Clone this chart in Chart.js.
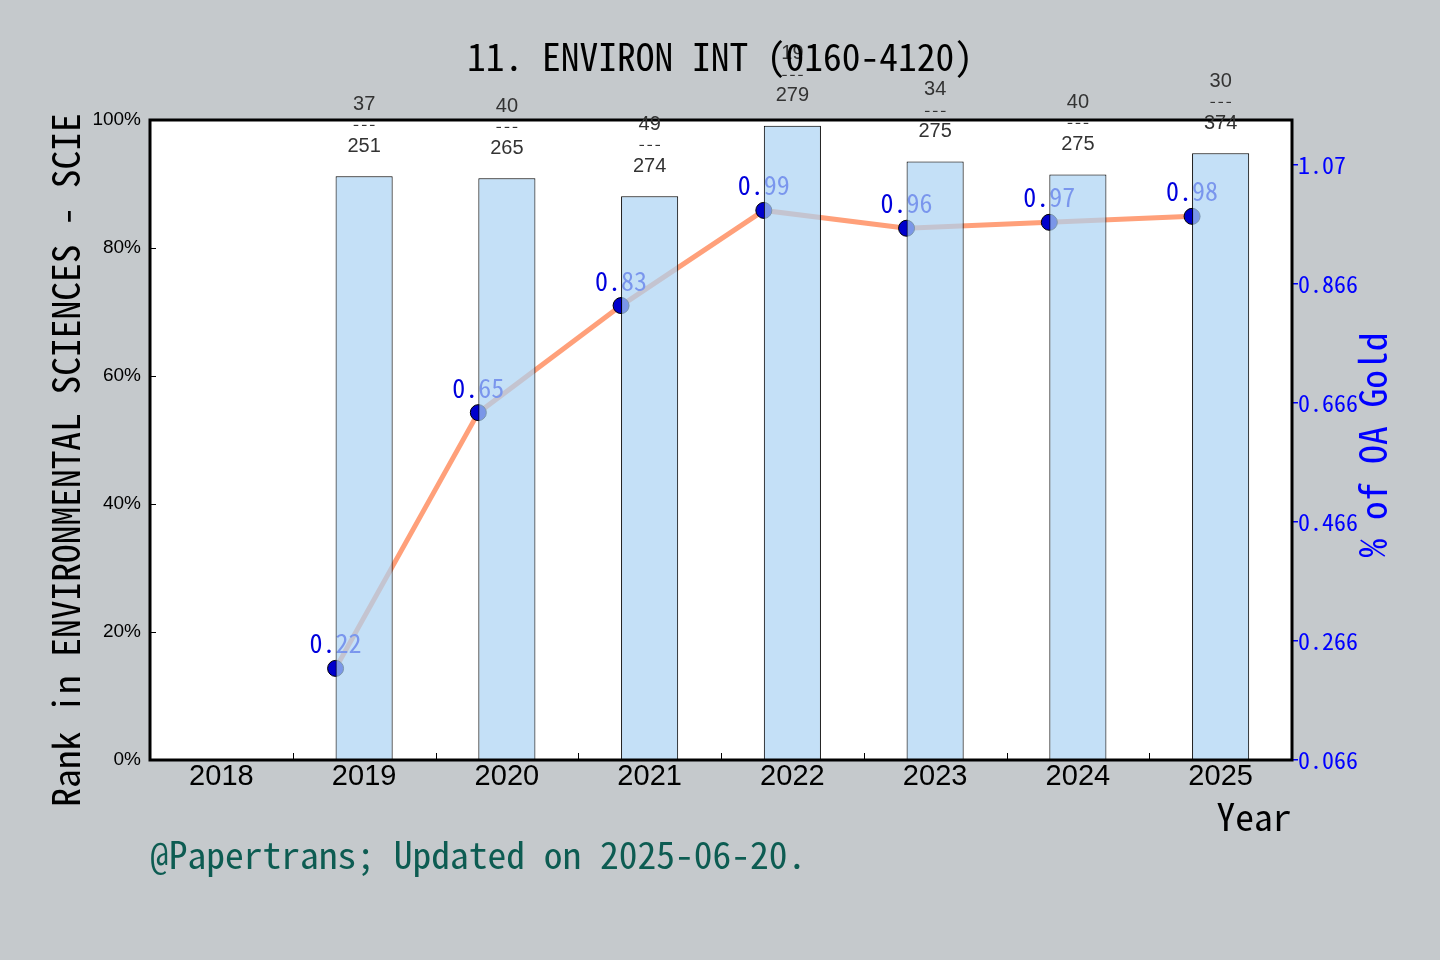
<!DOCTYPE html>
<html>
<head>
<meta charset="utf-8">
<script src="https://cdn.jsdelivr.net/npm/chart.js@4.4.1/dist/chart.umd.min.js"></script>
<style>
  html, body { margin: 0; padding: 0; background: #c5c9cc; }
  #wrap { width: 1440px; height: 960px; }
</style>
</head>
<body>
<div id="wrap"><canvas id="rankChart" width="1440" height="960"></canvas></div>
<script>
// data
const years = ['2018', '2019', '2020', '2021', '2022', '2023', '2024', '2025'];
const rankBarPct = [null, 91.2, 90.9, 88.1, 99.1, 93.5, 91.5, 94.8];
const ranks = [null, 37, 40, 49, 19, 34, 40, 30];
const totals = [null, 251, 265, 274, 279, 275, 275, 374];
const oaGold = [null, 0.22, 0.65, 0.83, 0.99, 0.96, 0.97, 0.98];
const leftTicks = [0, 20, 40, 60, 80, 100];
const rightTicks = [0.066, 0.266, 0.466, 0.666, 0.866, 1.066];
const rightTickLabels = ['0.066', '0.266', '0.466', '0.666', '0.866', '1.07'];

const MONO = '"Noto Sans Mono CJK SC", "Liberation Mono", monospace';
const NARROW = '"Liberation Sans Narrow", "Liberation Sans", Arial, sans-serif';
const lineShift = -0.2; // line points sit on the left edge of each bar

const decorations = {
  id: 'decorations',
  beforeDraw(chart) {
    const { ctx, chartArea: a } = chart;
    ctx.save();
    ctx.fillStyle = '#ffffff';
    ctx.fillRect(a.left, a.top, a.right - a.left, a.bottom - a.top);
    ctx.restore();
  },
  afterDatasetDraw(chart, args) {
    // value labels for the line, drawn before the bars so the bars tint them
    if (args.meta.type !== 'line') return;
    const ctx = chart.ctx;
    ctx.save();
    ctx.font = '26px ' + MONO;
    ctx.fillStyle = '#0000dd';
    ctx.textAlign = 'center';
    ctx.textBaseline = 'alphabetic';
    args.meta.data.forEach((pt, i) => {
      const raw = args.meta._dataset.data[i];
      ctx.fillText(raw.y.toFixed(2), pt.x, pt.y - 15);
    });
    ctx.restore();
  },
  afterDraw(chart) {
    const { ctx, chartArea: a, scales } = chart;
    ctx.save();

    // inward ticks
    ctx.strokeStyle = '#000';
    ctx.lineWidth = 1;
    ctx.beginPath();
    leftTicks.forEach(v => {
      const y = Math.round(scales.y.getPixelForValue(v)) + 0.5;
      ctx.moveTo(a.left, y);
      ctx.lineTo(a.left + 6, y);
    });
    for (let i = 0; i < years.length - 1; i++) {
      const x = Math.round(scales.x2.getPixelForValue(i + 0.5)) + 0.5;
      ctx.moveTo(x, a.bottom);
      ctx.lineTo(x, a.bottom - 7);
    }
    ctx.stroke();

    // frame
    ctx.lineWidth = 3;
    ctx.strokeRect(a.left, a.top, a.right - a.left, a.bottom - a.top);

    // rank / total above each bar
    const barMeta = chart.getDatasetMeta(0);
    ctx.fillStyle = '#333333';
    ctx.textAlign = 'center';
    ctx.textBaseline = 'middle';
    barMeta.data.forEach((bar, i) => {
      if (ranks[i] == null) return;
      ctx.font = '20px ' + NARROW;
      ctx.fillText(String(ranks[i]), bar.x, bar.y - 72);
      ctx.fillText(String(totals[i]), bar.x, bar.y - 30);
      ctx.font = '16px ' + MONO;
      ctx.fillText('---', bar.x, bar.y - 52);
    });

    // titles
    ctx.fillStyle = '#000';
    ctx.font = '37.5px ' + MONO;
    ctx.textAlign = 'center';
    ctx.fillText('11. ENVIRON INT (0160-4120)', 720, 57);
    ctx.fillText('Year', 1254, 817);

    ctx.save();
    ctx.translate(66, 460);
    ctx.rotate(-Math.PI / 2);
    ctx.fillText('Rank in ENVIRONMENTAL SCIENCES - SCIE', 0, 0);
    ctx.restore();

    ctx.save();
    ctx.translate(1373, 445);
    ctx.rotate(-Math.PI / 2);
    ctx.fillStyle = '#0000ff';
    ctx.fillText('% of OA Gold', 0, 0);
    ctx.restore();

    ctx.textAlign = 'left';
    ctx.fillStyle = '#0d5c52';
    ctx.fillText('@Papertrans; Updated on 2025-06-20.', 150, 855);

    ctx.restore();
  }
};

const linePoints = [];
oaGold.forEach((v, i) => { if (v != null) linePoints.push({ x: i + lineShift, y: v }); });

new Chart(document.getElementById('rankChart'), {
  type: 'bar',
  data: {
    labels: years,
    datasets: [
      {
        type: 'bar',
        data: rankBarPct,
        xAxisID: 'x',
        yAxisID: 'y',
        backgroundColor: 'rgba(172, 211, 244, 0.71)',
        borderColor: '#000000',
        borderWidth: 1,
        borderSkipped: false,
        grouped: false,
        barPercentage: 0.4,
        categoryPercentage: 1,
        order: 0
      },
      {
        type: 'line',
        data: linePoints,
        xAxisID: 'x2',
        yAxisID: 'y2',
        borderColor: '#ffa07a',
        borderWidth: 5,
        tension: 0,
        pointRadius: 8,
        pointBackgroundColor: '#0000cc',
        pointBorderColor: '#000000',
        pointBorderWidth: 1,
        order: 1
      }
    ]
  },
  options: {
    responsive: false,
    devicePixelRatio: 1,
    animation: false,
    layout: { padding: { top: 120, left: 0, right: 0, bottom: 0 } },
    plugins: { legend: { display: false }, tooltip: { enabled: false }, title: { display: false } },
    scales: {
      x: {
        type: 'category',
        offset: true,
        grid: { display: false, drawTicks: false },
        border: { display: false },
        ticks: { color: '#000', font: { family: NARROW, size: 29 }, padding: 0, maxRotation: 0 },
        afterFit: (s) => { s.height = 200; }
      },
      x2: {
        type: 'linear',
        display: false,
        offset: false,
        min: -0.5,
        max: years.length - 0.5
      },
      y: {
        position: 'left',
        min: 0,
        max: 100,
        grid: { display: false, drawTicks: false },
        border: { display: false },
        afterBuildTicks: (s) => { s.ticks = leftTicks.map(v => ({ value: v })); },
        ticks: { color: '#000', font: { family: NARROW, size: 19 }, padding: 9, callback: (v) => v + '%' },
        afterFit: (s) => { s.width = 150; }
      },
      y2: {
        position: 'right',
        min: 0.066,
        max: 1.142,
        grid: { drawOnChartArea: false, drawTicks: true, tickLength: 6, color: '#0000ff', lineWidth: 1.5 },
        border: { display: false },
        afterBuildTicks: (s) => { s.ticks = rightTicks.map(v => ({ value: v })); },
        ticks: { color: '#0000ff', font: { family: MONO, size: 24 }, padding: 0, callback: (v, i) => rightTickLabels[i] },
        afterFit: (s) => { s.width = 148; }
      }
    }
  },
  plugins: [decorations]
});
</script>
</body>
</html>
